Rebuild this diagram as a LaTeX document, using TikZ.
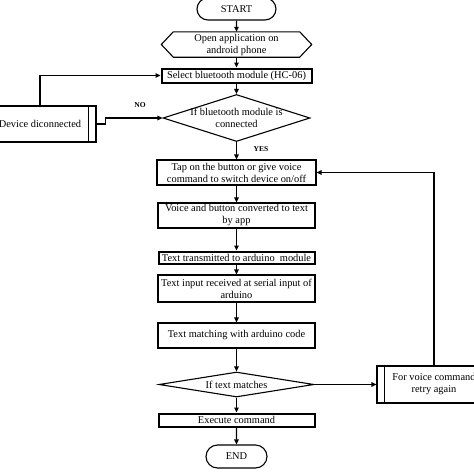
\documentclass[tikz,border=0pt]{standalone}
\usepackage{fontspec}
\setmainfont{Liberation Serif}
\usetikzlibrary{shapes.geometric,shapes.misc,arrows.meta}
\begin{document}
\begin{tikzpicture}[x=1pt,y=-1pt,
  every node/.style={font=\fontsize{10.4}{12}\selectfont, inner sep=1pt, align=center},
  proc/.style={draw, line width=1.1pt, minimum width=157pt},
  dproc/.style={draw, line width=0.9pt, minimum width=157pt},
  term/.style={draw, rounded rectangle, line width=1.1pt},
  dia/.style={draw, diamond, line width=1.1pt, inner sep=0pt},
  side/.style={draw, line width=1.1pt},
  lbl/.style={font=\fontsize{7.5}{8}\selectfont\bfseries},
  arr/.style={line width=1.1pt, -{Triangle[length=5pt,width=4.5pt]}},
  ln/.style={line width=1.1pt},
  thinln/.style={line width=0.6pt}]
\useasboundingbox (0,0) rectangle (474,474);
\fill[white] (0,0) rectangle (474,474);

\node[term, minimum width=81pt, minimum height=22pt] (start) at (236.5,9) {START};
\node[minimum width=150pt, minimum height=25pt] (hex) at (236.5,44.5) {Open application on\\android phone};
\draw[ln] ([xshift=12pt]hex.north west) -- ([xshift=-12pt]hex.north east) -- (hex.east)
  -- ([xshift=-12pt]hex.south east) -- ([xshift=12pt]hex.south west) -- (hex.west) -- cycle;
\node[dproc, minimum width=151pt, minimum height=15pt] (sel) at (236.5,75.5) {Select bluetooth module (HC-06)};
\draw[thinln] ([shift={(1.6pt,-1.6pt)}]sel.north west) rectangle ([shift={(-1.6pt,1.6pt)}]sel.south east);
\node[dia, minimum width=147pt, minimum height=47pt] (d1) at (236.5,118) {};
\node (d1t) at (d1.center) {If bluetooth module is\\connected};
\node[proc, minimum width=159pt, minimum height=25pt] (tap) at (236.5,172.5) {Tap on the button or give voice\\command to switch device on/off};
\node[proc, minimum height=25pt] (voice) at (236.5,215.5) {Voice and button converted to text\\by app};
\node[dproc, minimum height=13pt, inner sep=0.5pt] (trans) at (236.5,257.5) {Text transmitted to arduino\ \ module};
\draw[thinln] ([shift={(1.6pt,-1.6pt)}]trans.north west) rectangle ([shift={(-1.6pt,1.6pt)}]trans.south east);
\node[proc, minimum height=27pt] (inp) at (236.5,288.5) {Text input received at serial input of\\arduino};
\node[proc, minimum height=25pt] (match) at (236.5,335.5) {Text matching with arduino code};
\node[dia, minimum width=155pt, minimum height=25pt] (d2) at (236.5,384.5) {};
\node (d2t) at (d2.center) {If text matches};
\node[dproc, minimum height=14pt, inner sep=0.5pt] (exec) at (236.5,420) {Execute command};
\draw[thinln] ([shift={(1.6pt,-1.6pt)}]exec.north west) rectangle ([shift={(-1.6pt,1.6pt)}]exec.south east);
\node[term, minimum width=63pt, minimum height=23pt] (end) at (236.5,456.5) {END};

\node[side, minimum width=112pt, minimum height=36pt] (dev) at (40,124) {Device diconnected};
\draw[ln] ([xshift=-8pt]dev.north east) -- ([xshift=-8pt]dev.south east);
\draw[ln] ([xshift=8pt]dev.north west) -- ([xshift=8pt]dev.south west);
\node[side, minimum width=114pt, minimum height=37pt] (retry) at (434,384.5) {For voice command\\retry again};
\draw[ln] ([xshift=8pt]retry.north west) -- ([xshift=8pt]retry.south west);
\draw[ln] ([xshift=-8pt]retry.north east) -- ([xshift=-8pt]retry.south east);

\draw[arr] (start) -- (hex);
\draw[arr] (hex) -- (sel);
\draw[arr] (sel) -- (d1);
\draw[arr] (d1) -- (tap);
\draw[arr] (tap) -- (voice);
\draw[arr] (voice) -- (trans);
\draw[arr] (trans) -- (inp);
\draw[arr] (inp) -- (match);
\draw[arr] (match) -- (d2);
\draw[arr] (d2) -- (exec);
\draw[arr] (exec) -- (end);
\draw[arr] (dev.east) -- ++(9,0) |- (d1.west);
\draw[arr] (dev.north) |- (sel.west);
\draw[arr] (d2.east) -- (retry.west);
\draw[arr] (retry.north) |- (tap.east);

\node[lbl] (no) at (140,105) {NO};
\node[lbl] (yes) at (261,149) {YES};
\end{tikzpicture}
\end{document}
